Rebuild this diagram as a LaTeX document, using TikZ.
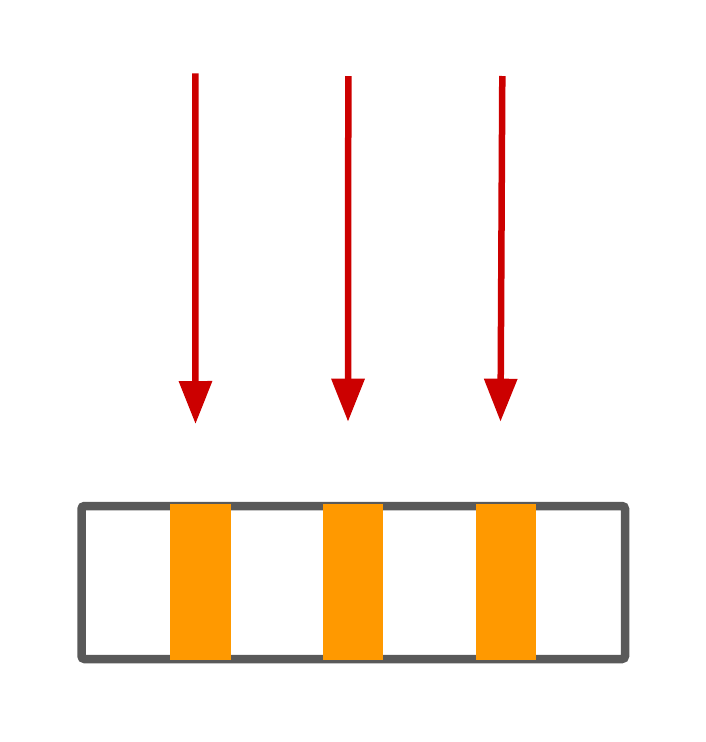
\documentclass[tikz,border=0pt]{standalone}
\usetikzlibrary{arrows.meta}
\definecolor{arrowred}{HTML}{CC0000}
\definecolor{framegray}{HTML}{595959}
\definecolor{barorange}{HTML}{FF9900}
\begin{document}
\begin{tikzpicture}[x=1pt,y=-1pt,
  ray/.style={draw=arrowred,line width=6.5pt,-{Triangle[width=32pt,length=43pt]},arrowred},
  frame/.style={draw=framegray,line width=8.5pt,rounded corners=3pt},
  bar/.style={fill=barorange,draw=none,inner sep=0pt,minimum width=60.5pt,minimum height=156pt}]
\useasboundingbox (0,0) rectangle (705,742);
% arrows
\coordinate (s1) at (195.3,73.3);
\coordinate (e1) at (195.5,424);
\coordinate (s2) at (348.3,76);
\coordinate (e2) at (348,421.7);
\coordinate (s3) at (502.3,76);
\coordinate (e3) at (500.5,421.7);
\draw[ray] (s1) -- (e1);
\draw[ray] (s2) -- (e2);
\draw[ray] (s3) -- (e3);
% frame
\coordinate (f1) at (81.5,506);
\coordinate (f2) at (625,659);
\draw[frame] (f1) rectangle (f2);
% bars
\node[bar] (b1) at (200.3,582.2) {};
\node[bar] (b2) at (353,582.2) {};
\node[bar] (b3) at (505.9,582.2) {};
\end{tikzpicture}
\end{document}
